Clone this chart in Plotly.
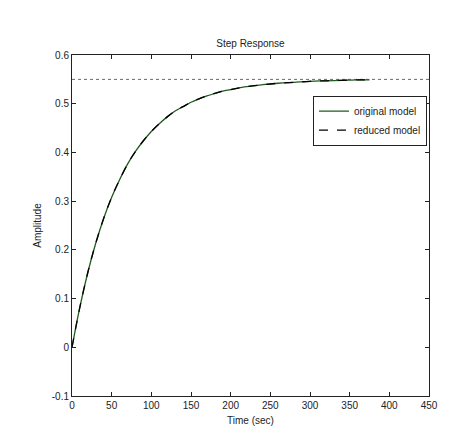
import plotly.graph_objects as go

time_s = [0, 10, 20, 30, 40, 50, 60, 70, 80, 90, 100, 110, 120, 130, 140, 150, 160, 170,
          180, 190, 200, 220, 240, 260, 280, 300, 320, 340, 360, 375]
original_model = [0.0, 0.083, 0.154, 0.214, 0.265, 0.308, 0.344, 0.376, 0.402, 0.424, 0.443,
                  0.459, 0.473, 0.485, 0.494, 0.503, 0.510, 0.516, 0.521, 0.526, 0.529,
                  0.535, 0.539, 0.542, 0.544, 0.546, 0.547, 0.548, 0.549, 0.549]
reduced_model = [0.0, 0.083, 0.154, 0.214, 0.265, 0.308, 0.344, 0.376, 0.402, 0.424, 0.443,
                 0.459, 0.473, 0.485, 0.494, 0.503, 0.510, 0.516, 0.521, 0.526, 0.529,
                 0.535, 0.539, 0.542, 0.544, 0.546, 0.547, 0.548, 0.549, 0.549]
steady_x = [0, 450]
steady_y = [0.55, 0.55]

x_ticks = [0, 50, 100, 150, 200, 250, 300, 350, 400, 450]
y_ticks = [-0.1, 0, 0.1, 0.2, 0.3, 0.4, 0.5, 0.6]
y_tick_text = ["-0.1", "0", "0.1", "0.2", "0.3", "0.4", "0.5", "0.6"]

FONT = "Liberation Sans, Arial, sans-serif"

fig = go.Figure()
fig.add_trace(go.Scatter(x=steady_x, y=steady_y, mode="lines",
                         line=dict(color="#666666", width=1, dash="dot"),
                         showlegend=False, hoverinfo="skip"))
fig.add_trace(go.Scatter(x=time_s, y=original_model, mode="lines", name="original model",
                         line=dict(color="#1f5a1f", width=1.3, shape="spline")))
fig.add_trace(go.Scatter(x=time_s, y=reduced_model, mode="lines", name="reduced model",
                         line=dict(color="#000000", width=1.3, dash="dash", shape="spline")))

axis_common = dict(showline=True, linecolor="#222222", linewidth=1, mirror="ticks",
                   ticks="inside", ticklen=4, tickcolor="#222222", showgrid=False,
                   zeroline=False, tickfont=dict(family=FONT, size=10, color="#222222"))

fig.update_layout(
    width=474, height=445,
    margin=dict(l=72, r=45, t=55, b=49),
    paper_bgcolor="white", plot_bgcolor="white",
    font=dict(family=FONT, size=10, color="#222222"),
    title=dict(text="Step Response", x=0.5, xanchor="center", xref="paper",
               y=1 - 43 / 445, yanchor="middle", font=dict(family=FONT, size=10, color="#222222")),
    xaxis=dict(range=[0, 450], tickvals=x_ticks,
               title=dict(text="Time (sec)", font=dict(family=FONT, size=10), standoff=6),
               **axis_common),
    yaxis=dict(range=[-0.1, 0.6], tickvals=y_ticks, ticktext=y_tick_text,
               title=dict(text="Amplitude", font=dict(family=FONT, size=10), standoff=8),
               **axis_common),
    legend=dict(x=0.675, y=0.881, xanchor="left", yanchor="top",
                bgcolor="white", bordercolor="#222222", borderwidth=1,
                font=dict(family=FONT, size=10, color="#222222"),
                itemwidth=30, tracegroupgap=0),
    showlegend=True,
)

fig.write_html("out.html")
